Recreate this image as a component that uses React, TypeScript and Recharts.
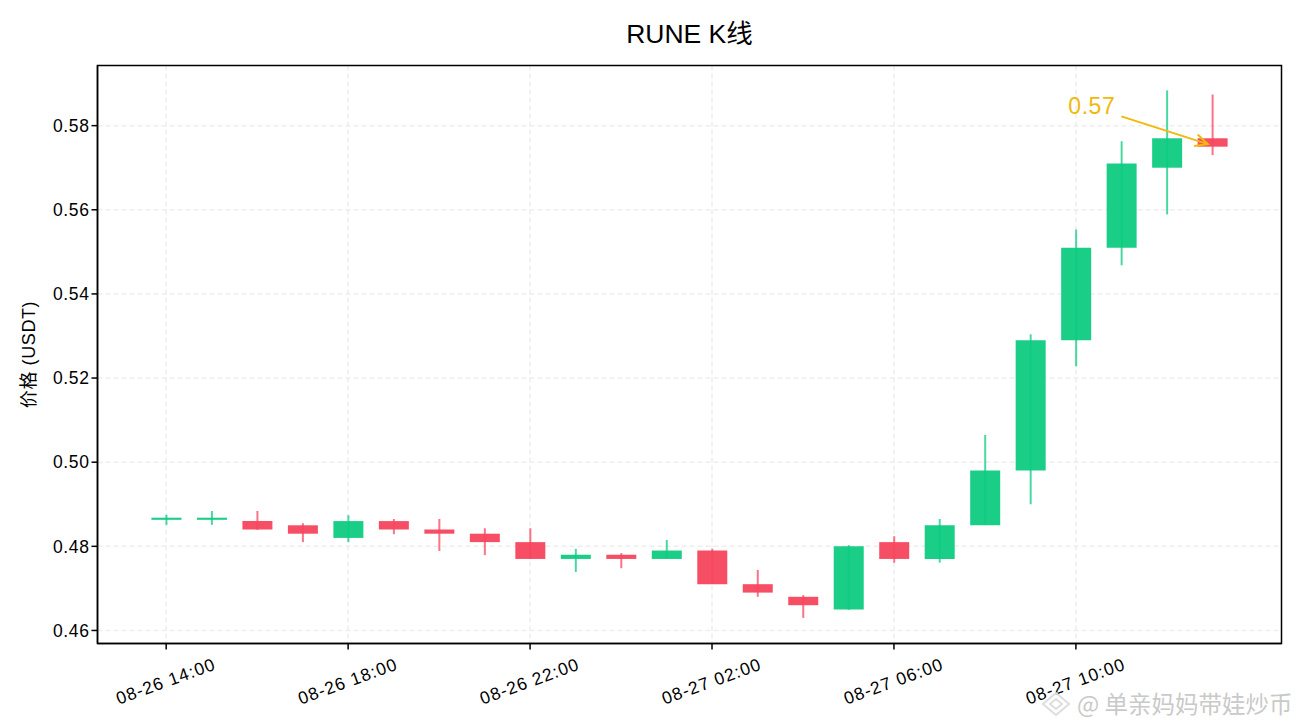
import React from 'react';
import { ComposedChart, Bar, Cell, XAxis, YAxis, CartesianGrid, ReferenceLine, ReferenceDot, ReferenceArea } from 'recharts';

const opens = [0.4863, 0.4863, 0.486, 0.485, 0.482, 0.486, 0.484, 0.483, 0.481, 0.477, 0.478, 0.477, 0.479, 0.471, 0.468, 0.465, 0.481, 0.477, 0.485, 0.498, 0.529, 0.551, 0.57, 0.577];
const closes = [0.4868, 0.4868, 0.484, 0.483, 0.486, 0.484, 0.483, 0.481, 0.477, 0.478, 0.477, 0.479, 0.471, 0.469, 0.466, 0.48, 0.477, 0.485, 0.498, 0.529, 0.551, 0.571, 0.577, 0.575];
const highs = [0.4875, 0.4884, 0.4884, 0.4855, 0.4874, 0.4865, 0.4865, 0.4843, 0.4843, 0.4794, 0.4784, 0.4815, 0.4794, 0.4744, 0.4684, 0.4803, 0.4824, 0.4865, 0.5065, 0.5304, 0.5553, 0.5763, 0.5884, 0.5874];
const lows = [0.4851, 0.4851, 0.4839, 0.481, 0.481, 0.4829, 0.4789, 0.4779, 0.477, 0.4739, 0.4748, 0.477, 0.4711, 0.468, 0.463, 0.4649, 0.4761, 0.4761, 0.4851, 0.49, 0.5228, 0.5468, 0.5589, 0.573];
const xTicks = [0, 4, 8, 12, 16, 20];
const xLabels = ['08-26 14:00', '08-26 18:00', '08-26 22:00', '08-27 02:00', '08-27 06:00', '08-27 10:00'];
const yTicks = [0.46, 0.48, 0.5, 0.52, 0.54, 0.56, 0.58];
const annotation = { text: '0.57', textX: 20.35, textY: 0.5846, fromX: 21.0, fromY: 0.5822, toX: 22.9, toY: 0.5756 };
const X_DOMAIN = [-1.51, 24.52];
const Y_DOMAIN = [0.4569, 0.5943];

const UP = '#0ECB81';
const DOWN = '#F6465D';
const GOLD = '#F0B90B';
const FONT = '"Liberation Sans", Arial, sans-serif';
const CJK = '"Liberation Sans", "Noto Sans CJK SC", sans-serif';

const data = opens.map((o, i) => ({
  i,
  body: [Math.min(o, closes[i]), Math.max(o, closes[i])],
  wick: [lows[i], highs[i]],
  up: closes[i] >= o,
}));

const XTick = (props: any) => {
  const { x, y, payload } = props;
  const label = xLabels[xTicks.indexOf(payload.value)];
  return (
    <text
      x={x}
      y={y + 31}
      textAnchor="middle"
      fontSize={17.5}
      letterSpacing={1}
      fill="#000"
      fontFamily={FONT}
      transform={`rotate(-20 ${x} ${y + 31})`}
      dominantBaseline="middle"
    >
      {label}
    </text>
  );
};

const ArrowShape = (props: any) => {
  const { x1, y1, x2, y2 } = props;
  const a = Math.atan2(y2 - y1, x2 - x1);
  const len = 14;
  const spread = 0.45;
  const hx1 = x2 - len * Math.cos(a - spread);
  const hy1 = y2 - len * Math.sin(a - spread);
  const hx2 = x2 - len * Math.cos(a + spread);
  const hy2 = y2 - len * Math.sin(a + spread);
  return (
    <g stroke={GOLD} strokeWidth={2} fill="none">
      <line x1={x1} y1={y1} x2={x2} y2={y2} />
      <polyline points={`${hx1},${hy1} ${x2},${y2} ${hx2},${hy2}`} />
    </g>
  );
};

export default function App() {
  return (
    <div style={{ position: 'absolute', left: 0, top: 0, width: 1300, height: 728, background: '#fff', overflow: 'hidden' }}>
      <div
        style={{
          position: 'absolute', left: 97.5, width: 1184, top: 17, textAlign: 'center',
          fontFamily: CJK, fontSize: 26.5, lineHeight: '34px', color: '#000',
        }}
      >
        RUNE K线
      </div>
      <ComposedChart
        width={1300}
        height={728}
        data={data}
        margin={{ top: 65.5, right: 18.5, bottom: 0, left: 0 }}
      >
        <CartesianGrid stroke="#eeeeee" strokeWidth={1.5} strokeDasharray="5 3" verticalValues={xTicks} horizontalValues={yTicks} />
        <XAxis
          xAxisId={0}
          dataKey="i"
          type="number"
          domain={X_DOMAIN}
          ticks={xTicks}
          interval={0}
          height={84.5}
          tick={<XTick />}
          tickSize={6}
          axisLine={{ stroke: '#000', strokeWidth: 1.5 }}
          tickLine={{ stroke: '#000', strokeWidth: 1.5 }}
        />
        <XAxis xAxisId="wick" dataKey="i" type="number" domain={X_DOMAIN} hide />
        <YAxis
          yAxisId={0}
          type="number"
          domain={Y_DOMAIN}
          ticks={yTicks}
          interval={0}
          width={97.5}
          tickSize={6}
          tickFormatter={(v: number) => v.toFixed(2)}
          tick={{ fontSize: 17.5, fill: '#000', fontFamily: FONT, letterSpacing: 0.6 }}
          axisLine={{ stroke: '#000', strokeWidth: 1.5 }}
          tickLine={{ stroke: '#000', strokeWidth: 1.5 }}
          label={{
            value: '价格 (USDT)',
            angle: -90,
            position: 'insideLeft',
            offset: 29,
            style: { fontSize: 18, letterSpacing: 0.6, fill: '#000', fontFamily: CJK, textAnchor: 'middle' },
          }}
        />
        <Bar xAxisId={0} dataKey="body" barSize={30} isAnimationActive={false} fillOpacity={0.95}>
          {data.map((d) => (
            <Cell key={d.i} fill={d.up ? UP : DOWN} />
          ))}
        </Bar>
        <Bar xAxisId="wick" dataKey="wick" barSize={2} isAnimationActive={false} fillOpacity={0.75}>
          {data.map((d) => (
            <Cell key={d.i} fill={d.up ? UP : DOWN} />
          ))}
        </Bar>
        <ReferenceLine
          segment={[
            { x: annotation.fromX, y: annotation.fromY },
            { x: annotation.toX, y: annotation.toY },
          ]}
          shape={<ArrowShape />}
        />
        <ReferenceDot
          x={annotation.textX}
          y={annotation.textY}
          r={0}
          shape={(p: any) => (
            <text x={p.cx} y={p.cy} textAnchor="middle" dominantBaseline="central" fontSize={23} letterSpacing={0.6} fill={GOLD} fontFamily={FONT}>
              {annotation.text}
            </text>
          )}
        />
        <ReferenceArea
          x1={X_DOMAIN[0]}
          x2={X_DOMAIN[1]}
          y1={Y_DOMAIN[0]}
          y2={Y_DOMAIN[1]}
          fill="none"
          stroke="#000"
          strokeWidth={1.5}
          ifOverflow="visible"
        />
      </ComposedChart>
      <div
        style={{
          position: 'absolute', left: 1077, top: 688, fontFamily: '"Noto Sans CJK SC", sans-serif',
          fontSize: 23.5, lineHeight: '30px', color: '#b8b8b8', opacity: 0.75, whiteSpace: 'nowrap',
        }}
      >
        @ 单亲妈妈带娃炒币
      </div>
      <svg style={{ position: 'absolute', left: 1040, top: 692 }} width={32} height={26}>
        <g fill="none" stroke="#dddddd" strokeWidth={2}>
          <polygon points="16,1 29,12 16,23 3,12" />
          <polygon points="16,7 22,12 16,17 10,12" />
        </g>
      </svg>
    </div>
  );
}
